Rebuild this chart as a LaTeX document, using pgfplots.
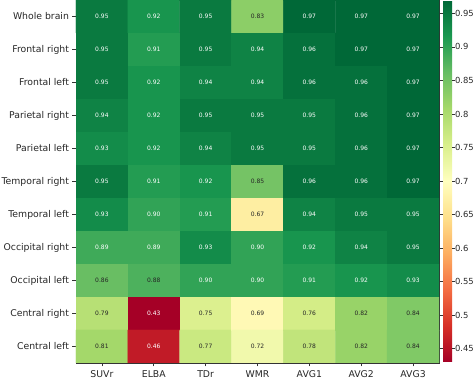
\documentclass[border=0pt]{standalone}
\usepackage{pgfplots}
\pgfplotsset{compat=1.18}
\usepackage{pgfplotstable}
\usepackage{fontspec}
\setmainfont{DejaVu Sans}
\pgfplotstableread{
x y v
0 0 0.95
1 0 0.92
2 0 0.95
3 0 0.83
4 0 0.97
5 0 0.97
6 0 0.97
0 1 0.95
1 1 0.91
2 1 0.95
3 1 0.94
4 1 0.96
5 1 0.97
6 1 0.97
0 2 0.95
1 2 0.92
2 2 0.94
3 2 0.94
4 2 0.96
5 2 0.96
6 2 0.97
0 3 0.94
1 3 0.92
2 3 0.95
3 3 0.95
4 3 0.95
5 3 0.96
6 3 0.97
0 4 0.93
1 4 0.92
2 4 0.94
3 4 0.95
4 4 0.95
5 4 0.96
6 4 0.97
0 5 0.95
1 5 0.91
2 5 0.92
3 5 0.85
4 5 0.96
5 5 0.96
6 5 0.97
0 6 0.93
1 6 0.90
2 6 0.91
3 6 0.67
4 6 0.94
5 6 0.95
6 6 0.95
0 7 0.89
1 7 0.89
2 7 0.93
3 7 0.90
4 7 0.92
5 7 0.94
6 7 0.95
0 8 0.86
1 8 0.88
2 8 0.90
3 8 0.90
4 8 0.91
5 8 0.92
6 8 0.93
0 9 0.79
1 9 0.43
2 9 0.75
3 9 0.69
4 9 0.76
5 9 0.82
6 9 0.84
0 10 0.81
1 10 0.46
2 10 0.77
3 10 0.72
4 10 0.78
5 10 0.82
6 10 0.84
}\datatable
\pgfplotsset{
  /pgf/number format/assume math mode=true,
  colormap={RdYlGn}{rgb255=(165,0,38) rgb255=(215,48,39) rgb255=(244,109,67) rgb255=(253,174,97) rgb255=(254,224,139) rgb255=(255,255,191) rgb255=(217,239,139) rgb255=(166,217,106) rgb255=(102,189,99) rgb255=(26,152,80) rgb255=(0,104,55)},
}
\begin{document}
\begin{tikzpicture}
\begin{axis}[
  name=main,
  scale only axis,
  width=363pt, height=363pt,
  xmin=-0.5, xmax=6.5, ymin=-0.5, ymax=10.5,
  y dir=reverse,
  enlargelimits=false,
  axis line style={draw=black!80, line width=0.6pt},
  xtick={0,...,6},
  xticklabels={SUVr,ELBA,TDr,WMR,AVG1,AVG2,AVG3},
  ytick={0,...,10},
  yticklabels={Whole brain,Frontal right,Frontal left,Parietal right,Parietal left,Temporal right,Temporal left,Occipital right,Occipital left,Central right,Central left},
  tick align=outside,
  tick pos=left,
  major tick length=3.5pt,
  every tick/.style={black!80, line width=0.6pt},
  tick label style={font=\fontsize{9.3}{11}\selectfont, text=black!85},
  xticklabel style={yshift=-0.5pt},
  point meta min=0.43, point meta max=0.97,
  colorbar,
  colorbar style={
    width=9pt,
    height=362pt,
    at={(parent axis.north east)},
    anchor=north west,
    xshift=-4.5pt,
    ytick={0.45,0.5,0.55,0.6,0.65,0.7,0.75,0.8,0.85,0.9,0.95},
    yticklabels={0.45,0.5,0.55,0.6,0.65,0.7,0.75,0.8,0.85,0.9,0.95},
    tick align=outside,
    major tick length=3pt,
    axis line style={draw=none},
    yticklabel style={font=\fontsize{8.4}{10}\selectfont, text=black!85, xshift=-3.5pt},
  },
]
\addplot[matrix plot*, mesh/cols=7, point meta=explicit,
  visualization depends on={\thisrow{v} \as \val},
  nodes near coords={\pgfmathtruncatemacro{\w}{(\val>0.885)||(\val<0.5)}\ifnum\w=1\color{white}\else\color{black!85}\fi\pgfmathprintnumber[fixed,fixed zerofill,precision=2]{\val}},
  every node near coord/.append style={anchor=center, font=\fontsize{6}{7}\selectfont},
] table[x=x, y=y, meta=v] {\datatable};
\end{axis}
\pgfresetboundingbox
\path[use as bounding box] ([xshift=-76pt]main.north west) rectangle ([xshift=398pt,yshift=-379pt]main.north west);
\end{tikzpicture}
\end{document}
